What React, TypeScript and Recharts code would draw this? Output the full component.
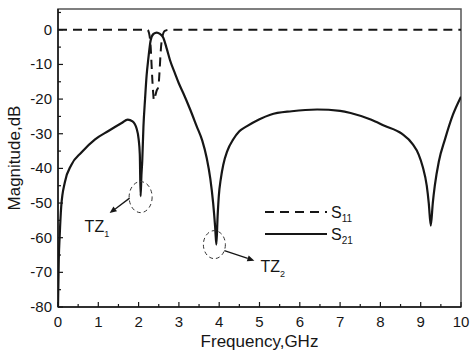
import {
  Legend,
  Line,
  LineChart,
  ReferenceArea,
  ReferenceDot,
  XAxis,
  YAxis,
} from "recharts";

const FONT = '"Liberation Sans", Arial, sans-serif';
const INK = "#161616";

// S21 (solid), frequency in GHz, magnitude in dB
const s21Freq = [
  0, 0.02, 0.04, 0.08, 0.17, 0.33, 0.58, 0.92, 1.25, 1.58, 1.73, 1.85, 1.95,
  2.0, 2.03, 2.05, 2.07, 2.09, 2.12, 2.16, 2.2, 2.24, 2.3, 2.37, 2.45, 2.53,
  2.61, 2.7, 2.78, 2.9, 3.0, 3.11, 3.28, 3.44, 3.58, 3.69, 3.78, 3.85, 3.9,
  3.93, 3.96, 3.99, 4.04, 4.1, 4.2, 4.35, 4.5, 4.69, 5.0, 5.27, 5.8, 6.43, 7.0,
  7.26, 7.76, 8.1, 8.53, 8.8, 8.95, 9.05, 9.15, 9.2, 9.25, 9.3, 9.35, 9.45, 9.6,
  9.8, 10,
];
const s21Db = [
  -80, -66, -60, -51, -44, -39, -35.4, -31.6, -29.2, -26.9, -25.9, -26.4,
  -28.5, -31.5, -36, -48, -42, -38, -28, -20, -13, -8.5, -3, -1.2, -0.8, -1.2,
  -2.2, -5.5, -8.8, -12.5, -15.5, -18.3, -23, -27.8, -32, -37, -43, -50, -57,
  -62, -54, -48, -43, -39, -35, -31.6, -29.3, -27.8, -25.8, -24.5, -23.5, -23,
  -23.4, -24, -25.9, -27.7, -30, -33, -36, -39.5, -45, -50, -56.5, -50, -45,
  -38, -31.7, -24.5, -19.3,
];

// S11 (dashed)
const s11Freq = [
  0, 2.22, 2.26, 2.3, 2.33, 2.36, 2.38, 2.41, 2.45, 2.49, 2.52, 2.55, 2.59,
  2.65, 2.75, 10,
];
const s11Db = [
  0, 0, -1, -5, -12, -18, -20.3, -19.2, -17.5, -16.5, -12, -6, -2, -0.3, 0, 0,
];

const xTicks = [
  0, 0.5, 1, 1.5, 2, 2.5, 3, 3.5, 4, 4.5, 5, 5.5, 6, 6.5, 7, 7.5, 8, 8.5, 9,
  9.5, 10,
];
const yTicks = [
  -80, -75, -70, -65, -60, -55, -50, -45, -40, -35, -30, -25, -20, -15, -10, -5,
  0, 5,
];

// transmission zeros: [freq, dB]
const tz1 = [2.05, -48];
const tz2 = [3.93, -62];

const s21 = s21Freq.map((f, i) => ({ f, db: s21Db[i] }));
const s11 = s11Freq.map((f, i) => ({ f, db: s11Db[i] }));

function XTick({ x, y, payload }: any) {
  const v = payload.value;
  const major = Number.isInteger(v);
  return (
    <g>
      <line x1={x} x2={x} y1={y} y2={y - (major ? 5 : 3)} stroke={INK} strokeWidth={1.2} />
      {major && (
        <text x={x} y={y + 20} textAnchor="middle" fontSize={15} fontFamily={FONT} fill={INK}>
          {v}
        </text>
      )}
    </g>
  );
}

function YTick({ x, y, payload }: any) {
  const v = payload.value;
  const major = v % 10 === 0;
  return (
    <g>
      <line x1={x} x2={x + (major ? 5 : 3)} y1={y} y2={y} stroke={INK} strokeWidth={1.2} />
      {major && (
        <text x={x - 6} y={y + 5} textAnchor="end" fontSize={15} fontFamily={FONT} fill={INK}>
          {v}
        </text>
      )}
    </g>
  );
}

function Arrow({ x1, y1, x2, y2 }: { x1: number; y1: number; x2: number; y2: number }) {
  const a = Math.atan2(y2 - y1, x2 - x1);
  const L = 7;
  const W = 3;
  const bx = x2 - L * Math.cos(a);
  const by = y2 - L * Math.sin(a);
  const px = -Math.sin(a) * W;
  const py = Math.cos(a) * W;
  return (
    <g>
      <line x1={x1} y1={y1} x2={bx} y2={by} stroke={INK} strokeWidth={1.3} />
      <polygon points={`${x2},${y2} ${bx + px},${by + py} ${bx - px},${by - py}`} fill={INK} />
    </g>
  );
}

function Tz1Mark({ cx, cy }: any) {
  return (
    <g>
      <ellipse cx={cx} cy={cy + 1} rx={11.5} ry={15.5} fill="none" stroke="#333" strokeWidth={1} strokeDasharray="4 3" />
      <Arrow x1={cx - 11} y1={cy + 2} x2={cx - 31} y2={cy + 17} />
      <text x={cx - 56} y={cy + 36} fontSize={16} fontFamily={FONT} fill={INK}>
        TZ
        <tspan fontSize={9} dy={5}>1</tspan>
      </text>
    </g>
  );
}

function Tz2Mark({ cx, cy }: any) {
  return (
    <g>
      <ellipse cx={cx - 2} cy={cy} rx={11} ry={14} fill="none" stroke="#333" strokeWidth={1} strokeDasharray="4 3" />
      <Arrow x1={cx + 8} y1={cy + 6} x2={cx + 38} y2={cy + 16} />
      <text x={cx + 44} y={cy + 27} fontSize={16} fontFamily={FONT} fill={INK}>
        TZ
        <tspan fontSize={9} dy={5}>2</tspan>
      </text>
    </g>
  );
}

function LegendBox() {
  return (
    <svg width={110} height={50} style={{ display: "block" }}>
      <line x1={3} x2={65} y1={12} y2={12} stroke={INK} strokeWidth={2} strokeDasharray="9 6" />
      <text x={69} y={18} fontSize={16} fontFamily={FONT} fill={INK}>
        S<tspan fontSize={10} dy={4}>11</tspan>
      </text>
      <line x1={3} x2={65} y1={34} y2={34} stroke={INK} strokeWidth={2} />
      <text x={69} y={40} fontSize={16} fontFamily={FONT} fill={INK}>
        S<tspan fontSize={10} dy={4}>21</tspan>
      </text>
    </svg>
  );
}

export default function App() {
  return (
    <div style={{ position: "absolute", left: 0, top: 0, background: "#fff" }}>
      <LineChart width={474} height={351} margin={{ top: 9, right: 13, left: 0, bottom: 0 }}>
        <XAxis
          dataKey="f"
          type="number"
          domain={[0, 10]}
          ticks={xTicks}
          interval={0}
          allowDataOverflow
          height={44}
          tickSize={0}
          tickMargin={0}
          tickLine={false}
          axisLine={{ stroke: INK, strokeWidth: 1.5 }}
          tick={<XTick />}
          label={{
            value: "Frequency,GHz",
            position: "insideBottom",
            offset: 4,
            fontSize: 17,
            fontFamily: FONT,
            fill: INK,
          }}
        />
        <YAxis
          type="number"
          domain={[-80, 6]}
          ticks={yTicks}
          interval={0}
          allowDataOverflow
          width={58}
          tickSize={0}
          tickMargin={0}
          tickLine={false}
          axisLine={{ stroke: INK, strokeWidth: 1.5 }}
          tick={<YTick />}
          label={{
            value: "Magnitude,dB",
            angle: -90,
            position: "insideLeft",
            offset: 14,
            fontSize: 17,
            fontFamily: FONT,
            fill: INK,
            style: { textAnchor: "middle" },
          }}
        />
        <ReferenceArea x1={0} x2={10} y1={-80} y2={6} fill="none" stroke="#555" strokeWidth={1.5} />
        <Line
          data={s11}
          dataKey="db"
          type="monotone"
          stroke={INK}
          strokeWidth={2}
          strokeDasharray="9 6"
          dot={false}
          isAnimationActive={false}
        />
        <Line
          data={s21}
          dataKey="db"
          type="monotone"
          stroke={INK}
          strokeWidth={2.2}
          dot={false}
          isAnimationActive={false}
        />
        <ReferenceDot x={tz1[0]} y={tz1[1]} r={12} shape={<Tz1Mark />} />
        <ReferenceDot x={tz2[0]} y={tz2[1]} r={12} shape={<Tz2Mark />} />
        <Legend
          layout="vertical"
          align="center"
          verticalAlign="middle"
          content={() => <LegendBox />}
          wrapperStyle={{ left: 262, top: 200, width: 110 }}
        />
      </LineChart>
    </div>
  );
}
